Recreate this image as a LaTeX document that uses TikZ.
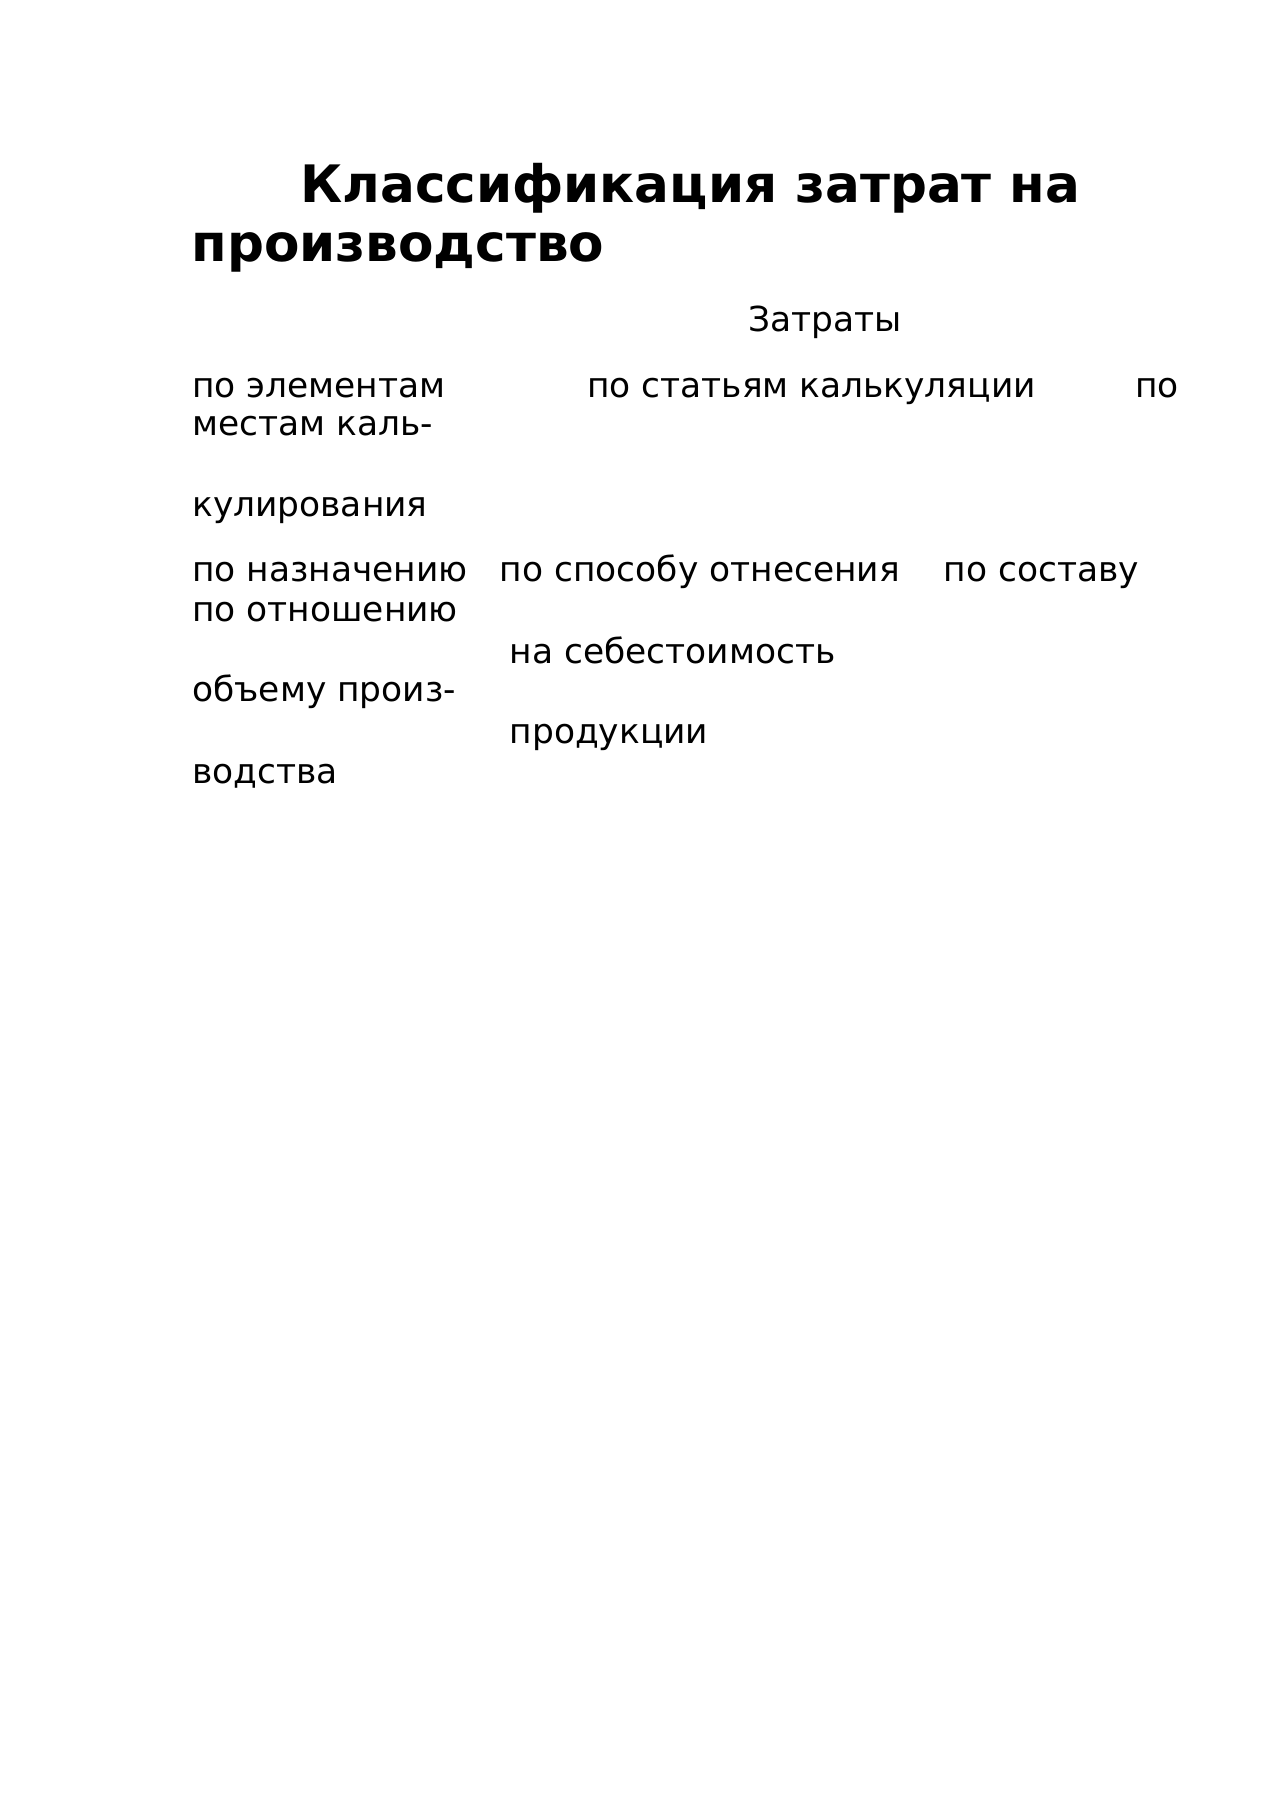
\documentclass[tikz,border=0pt]{standalone}
\usepackage{fontspec}
\setmainfont{DejaVu Sans}
\tikzset{
  zag/.style={anchor=base west, inner sep=0pt, font=\fontsize{24}{27.6}\selectfont\bfseries},
  txt/.style={anchor=base west, inner sep=0pt, font=\fontsize{16}{18.6}\selectfont},
}
\begin{document}
\begin{tikzpicture}[x=1pt, y=1pt]
  \fill[white] (0,0) rectangle (595.28,-842);
  \useasboundingbox (0,0) rectangle (595.28,-842);
  % title
  \node[zag] (title1) at (139.4,-94.1) {Классификация затрат на};
  \node[zag] (title2) at (88.8,-121.4) {производство};
  % first level
  \node[txt] (zatraty) at (347.7,-153.9) {Затраты};
  \node[txt] (elem) at (89.2,-184.6) {по элементам};
  \node[txt] (stat) at (272.8,-184.6) {по статьям калькуляции};
  \node[txt] (mest1) at (527.6,-184.6) {по};
  \node[txt] (mest2) at (89.2,-202.3) {местам каль-};
  \node[txt] (mest3) at (89.2,-240.3) {кулирования};
  % second level
  \node[txt] (nazn) at (89.2,-270.5) {по назначению};
  \node[txt] (sposob1) at (232.2,-270.5) {по способу отнесения};
  \node[txt] (sostav) at (438.6,-270.5) {по составу};
  \node[txt] (obem1) at (89.2,-289.1) {по отношению};
  \node[txt] (sposob2) at (236.8,-308.5) {на себестоимость};
  \node[txt] (obem2) at (89.2,-326.3) {объему произ-};
  \node[txt] (sposob3) at (236.8,-345.7) {продукции};
  \node[txt] (obem3) at (89.2,-364.3) {водства};
\end{tikzpicture}
\end{document}
